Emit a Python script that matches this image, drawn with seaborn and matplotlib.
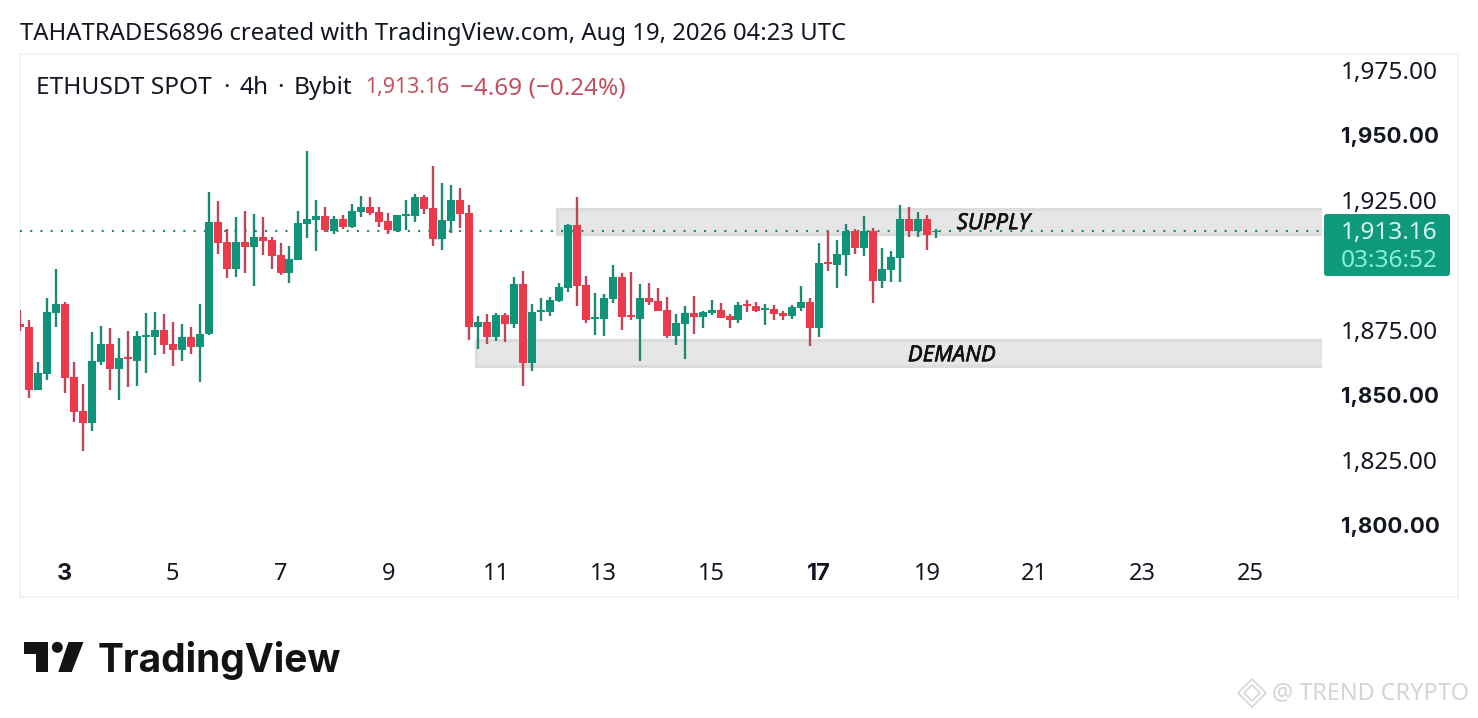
import pandas as pd
import seaborn as sns
import matplotlib.pyplot as plt
import matplotlib.patheffects as pe
from matplotlib.patches import Rectangle, Polygon, Circle, FancyBboxPatch

W, H = 1478, 718

# 4h candles, aug 2 04:00 -> aug 19 04:00
opens = [1877.3, 1876.3, 1851.9, 1858.1, 1881.7, 1885.1, 1856.9, 1843.9, 1839.2, 1862.7,
         1869.6, 1860.0, 1864.6, 1863.2, 1872.5, 1872.3, 1875.0, 1869.6, 1867.3, 1872.3,
         1868.5, 1873.5, 1916.5, 1908.9, 1898.5, 1908.9, 1906.9, 1910.8, 1909.6, 1903.8,
         1897.1, 1901.9, 1915.8, 1917.3, 1918.9, 1913.1, 1917.7, 1914.6, 1920.4, 1922.3,
         1920.4, 1916.9, 1913.1, 1918.9, 1918.9, 1926.2, 1921.9, 1910.0, 1917.1, 1925.0,
         1920.0, 1876.2, 1878.1, 1872.3, 1880.8, 1877.3, 1892.7, 1862.3, 1881.9, 1881.8,
         1886.2, 1891.2, 1915.4, 1892.3, 1879.2, 1879.2, 1886.9, 1895.4, 1880.8, 1879.2,
         1887.3, 1886.2, 1882.7, 1872.7, 1877.3, 1881.5, 1880.0, 1881.5, 1882.7, 1880.4,
         1878.9, 1885.0, 1884.2, 1882.8, 1883.1, 1881.5, 1880.4, 1883.5, 1885.8, 1875.8,
         1901.2, 1900.0, 1903.8, 1913.1, 1906.5, 1913.1, 1893.8, 1898.1, 1902.7, 1917.7,
         1913.1, 1917.7, 1912.7]
closes = [1876.0, 1851.9, 1858.4, 1881.9, 1885.1, 1856.7, 1843.5, 1839.2, 1863.1, 1869.6,
          1860.1, 1864.3, 1864.0, 1872.7, 1873.2, 1875.0, 1869.3, 1867.3, 1872.3, 1868.5,
          1873.5, 1916.5, 1908.6, 1898.5, 1908.9, 1906.9, 1910.8, 1909.2, 1903.5, 1897.1,
          1902.2, 1916.2, 1917.7, 1918.9, 1913.5, 1917.7, 1914.6, 1920.8, 1922.3, 1920.0,
          1916.5, 1913.5, 1919.2, 1919.6, 1926.2, 1921.6, 1910.0, 1917.3, 1925.0, 1919.6,
          1876.3, 1878.1, 1872.3, 1880.8, 1877.3, 1892.7, 1862.3, 1881.9, 1882.7, 1886.5,
          1891.5, 1915.4, 1891.9, 1878.9, 1880.0, 1887.3, 1895.4, 1880.0, 1880.0, 1887.3,
          1885.8, 1882.3, 1872.7, 1877.7, 1881.5, 1880.0, 1881.9, 1882.7, 1879.6, 1878.9,
          1884.6, 1884.2, 1882.3, 1883.5, 1881.2, 1880.4, 1883.9, 1885.8, 1875.8, 1900.8,
          1900.5, 1904.2, 1913.1, 1906.5, 1913.1, 1893.8, 1898.4, 1903.1, 1917.7, 1913.1,
          1917.7, 1911.5, 1913.16]
highs = [1882.7, 1878.9, 1862.8, 1887.5, 1898.5, 1885.8, 1862.8, 1854.3, 1874.3, 1876.6,
         1875.8, 1871.9, 1874.6, 1874.6, 1881.6, 1881.9, 1881.2, 1878.1, 1877.3, 1876.2,
         1885.0, 1928.1, 1924.6, 1913.8, 1918.5, 1920.8, 1919.6, 1918.5, 1910.8, 1908.5,
         1907.3, 1920.8, 1943.9, 1925.0, 1922.3, 1918.9, 1919.3, 1923.5, 1926.6, 1926.3,
         1922.3, 1920.0, 1919.2, 1925.0, 1927.3, 1926.9, 1938.1, 1931.6, 1930.8, 1929.6,
         1923.1, 1880.4, 1881.2, 1881.5, 1881.5, 1895.4, 1897.7, 1885.0, 1887.3, 1887.6,
         1893.1, 1915.8, 1926.2, 1895.8, 1889.2, 1888.9, 1900.0, 1896.8, 1897.3, 1892.7,
         1893.1, 1891.2, 1887.7, 1881.2, 1884.2, 1888.1, 1882.3, 1886.5, 1885.4, 1881.2,
         1885.8, 1886.5, 1885.8, 1885.0, 1884.6, 1882.3, 1884.6, 1891.9, 1887.3, 1908.5,
         1913.1, 1909.6, 1915.8, 1913.8, 1918.8, 1914.1, 1906.5, 1905.4, 1923.1, 1922.3,
         1920.4, 1919.2, 1913.8]
lows = [1874.8, 1848.7, 1851.9, 1855.8, 1876.3, 1850.7, 1839.6, 1828.5, 1836.2, 1861.6,
        1851.9, 1848.1, 1853.1, 1853.5, 1858.5, 1865.4, 1865.8, 1861.2, 1863.1, 1865.8,
        1855.0, 1873.2, 1904.2, 1895.0, 1895.4, 1896.8, 1891.9, 1903.9, 1898.5, 1896.2,
        1893.2, 1901.9, 1910.4, 1905.4, 1912.7, 1911.9, 1913.9, 1914.1, 1918.5, 1919.2,
        1914.6, 1911.9, 1912.7, 1913.5, 1916.5, 1919.6, 1907.3, 1905.8, 1912.3, 1914.2,
        1871.2, 1867.7, 1869.6, 1870.8, 1870.4, 1875.8, 1853.5, 1859.2, 1878.5, 1880.4,
        1885.8, 1889.6, 1884.2, 1877.7, 1873.1, 1872.7, 1885.4, 1875.0, 1878.9, 1863.1,
        1884.6, 1882.3, 1871.9, 1869.2, 1863.8, 1873.5, 1875.8, 1880.8, 1879.6, 1875.8,
        1877.7, 1881.9, 1881.9, 1876.9, 1878.9, 1878.9, 1879.2, 1882.3, 1868.8, 1872.3,
        1897.7, 1891.2, 1895.8, 1904.2, 1903.5, 1885.4, 1891.2, 1893.4, 1893.4, 1910.8,
        1910.8, 1905.8, 1910.4]

price_ticks = [1975, 1950, 1925, 1875, 1850, 1825, 1800]
bold_prices = [1950, 1850, 1800]
day_ticks = [3, 5, 7, 9, 11, 13, 15, 17, 19, 21, 23, 25]
bold_days = [3, 17]
last_price = 1913.16
supply_zone = (12.13, 1911.8, 1921.7)
demand_zone = (10.63, 1861.1, 1871.2)

GREEN = '#0f9379'
RED = '#ea3a4b'
GREEN_WICK = '#1c8a72'
RED_WICK = '#bd4759'
FONT = 'Noto Sans'

times = pd.date_range('2026-08-02 04:00', periods=len(opens), freq='4h')
candles = pd.DataFrame({'day': times.day + times.hour / 24, 'open': opens, 'close': closes,
                        'high': highs, 'low': lows})
candles['dir'] = ['up' if c >= o else 'down' for o, c in zip(opens, closes)]
candles['n'] = candles.index
wicks = candles.melt(id_vars=['n', 'day', 'dir'], value_vars=['high', 'low'], value_name='price')
bodies = candles.melt(id_vars=['n', 'day', 'dir'], value_vars=['open', 'close'], value_name='price')

sns.set_theme(style='white')
plt.rcParams['font.family'] = FONT


def fx(px):
    return px / W


def fy(py):
    return 1 - py / H


fig = plt.figure(figsize=(W / 100, H / 100), dpi=100, facecolor='white')

# chart frame, behind the axes
fig.add_artist(Rectangle((fx(20), fy(597)), fx(1438), 543 / H, transform=fig.transFigure,
                         facecolor='white', edgecolor='#f1f1f1', lw=1.2, zorder=-1))

ax = fig.add_axes([fx(20), fy(550), fx(1302), 496 / H])
ax.patch.set_alpha(0)
sns.despine(ax=ax, left=True, bottom=True, right=True, top=True)

# zones
for start, bottom, top in [supply_zone, demand_zone]:
    ax.add_patch(Rectangle((start, bottom), 30, top - bottom, facecolor='#e6e6e6',
                           edgecolor='#dcdcdc', lw=2.2, zorder=1))
ax.axhline(last_price, color='#1f8a72', lw=1.5, ls=(0, (1, 3.9)), zorder=1.5)

palette_w = {'up': GREEN_WICK, 'down': RED_WICK}
palette_b = {'up': GREEN, 'down': RED}
sns.lineplot(data=wicks, x='day', y='price', units='n', hue='dir', palette=palette_w, estimator=None,
             lw=1.7, legend=False, ax=ax, zorder=2, solid_capstyle='butt')
sns.lineplot(data=bodies, x='day', y='price', units='n', hue='dir', palette=palette_b, estimator=None,
             lw=5.8, legend=False, ax=ax, zorder=3, solid_capstyle='butt')

ax.set_xlim(2.165, 26.33)
ax.set_ylim(1790.4, 1981.15)
ax.set_xlabel('')
ax.set_ylabel('')
ax.set_xticks(day_ticks)
ax.set_xticklabels([str(d) for d in day_ticks])
ax.tick_params(axis='x', length=0, pad=9, labelsize=17, labelcolor='#131722')
ax.yaxis.tick_right()
ax.set_yticks(price_ticks)
ax.set_yticklabels([f'{p:,.2f}' for p in price_ticks])
ax.tick_params(axis='y', length=0, pad=13.5, labelsize=17.6, labelcolor='#131722')

# Noto Sans has no bold here, so the heavy labels use Inter
for lab, d in zip(ax.get_xticklabels(), day_ticks):
    if d in bold_days:
        lab.set(family='Inter', fontweight='bold', fontsize=17)
for lab, p in zip(ax.get_yticklabels(), price_ticks):
    if p in bold_prices:
        lab.set(family='Inter', fontweight='bold', fontsize=16)

heavy = [pe.withStroke(linewidth=0.4, foreground='#111111')]
ax.text(20.23, 1915.9, 'SUPPLY', fontsize=16, style='italic', color='#111111', ha='center', va='center',
        zorder=5, path_effects=heavy)
ax.text(19.46, 1865.1, 'DEMAND', fontsize=16, style='italic', color='#111111', ha='center', va='center',
        zorder=5, path_effects=heavy)

# header texts
fig.text(fx(20), fy(34), 'TAHATRADES6896 created with TradingView.com, Aug 19, 2026 04:23 UTC',
         fontsize=17.2, color='#131722', va='center')
for px, label in [(36, 'ETHUSDT SPOT'), (223, '\u00b7'), (240, '4h'), (277, '\u00b7'), (294, 'Bybit')]:
    fig.text(fx(px), fy(88), label, fontsize=17.6, color='#131722', va='center')
fig.text(fx(365), fy(88), '1,913.16', fontsize=15.3, color='#c4505f', va='center')
fig.text(fx(460), fy(88), '\u22124.69 (\u22120.24%)', fontsize=17.5, color='#c4505f', va='center')

# last price tag, drawn in pixels
fig.add_artist(FancyBboxPatch((1327, H - 273), 120, 56, boxstyle='round,pad=3,rounding_size=3',
                              transform=None, facecolor='#0f9a7e', edgecolor='none', zorder=6))
fig.text(fx(1341), fy(233), '1,913.16', fontsize=17.6, color='#d9f6ef', va='center', zorder=7)
fig.text(fx(1341), fy(261), '03:36:52', fontsize=17.6, color='#86f0d8', va='center', zorder=7)


def to_fig(points):
    return [(fx(x), fy(y)) for x, y in points]


# tradingview logo
fig.add_artist(Polygon(to_fig([(24, 642), (48, 642), (48, 672), (36, 672), (36, 654), (24, 654)]),
                       transform=fig.transFigure, facecolor='#131313', edgecolor='none'))
fig.add_artist(Polygon(to_fig([(68.5, 642), (83.5, 642), (71.7, 672), (58.3, 672)]),
                       transform=fig.transFigure, facecolor='#131313', edgecolor='none'))
fig.add_artist(Circle((57.3, H - 647.3), 5.5, transform=None, facecolor='#131313', edgecolor='none'))
fig.text(fx(98), fy(672), 'TradingView', fontsize=28, family='Inter', fontweight='bold', color='#131313',
         va='baseline')

# watermark
for size in [14, 8]:
    fig.add_artist(Polygon(to_fig([(1252 - size, 693), (1252, 693 - size), (1252 + size, 693), (1252, 693 + size)]),
                           transform=fig.transFigure, facecolor='none', edgecolor='#d9d9d9', lw=1.3))
fig.text(fx(1272), fy(693), '@ TREND CRYPTO', fontsize=16.9, color='#d4d4d4', va='center')

fig.savefig('out.png', dpi=100)
